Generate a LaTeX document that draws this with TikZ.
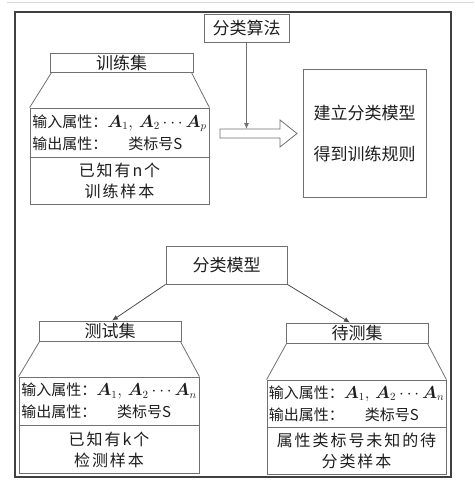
\documentclass[tikz,border=0pt]{standalone}
\usepackage{fontspec}
\usepackage{bm}
\setmainfont{Noto Sans CJK SC}
\newfontfamily\widecjk{Noto Sans CJK SC}[LetterSpace=12]
\usetikzlibrary{arrows.meta,positioning}

\definecolor{linegray}{HTML}{707070}
\definecolor{textgray}{HTML}{1E1E1E}
\newcommand{\attrs}[1]{{\fontsize{16}{22}\selectfont$\bm{A}_1,\,\bm{A}_2\cdots\bm{A}_{#1}$}}

\begin{document}
\begin{tikzpicture}[x=1pt,y=-1pt,>={Latex[length=6pt,width=5pt]}]
	\tikzstyle{every node}=[text=textgray,inner sep=0pt]
	\tikzstyle{box}=[draw=linegray,thick,fill=white]
	\tikzstyle{title}=[box,font=\fontsize{17}{20}\selectfont]
	\tikzstyle{attr}=[box,align=left,font=\fontsize{15}{22}\selectfont]
	\tikzstyle{sample}=[box,align=center,font=\widecjk\fontsize{16}{21}\selectfont]
	\tikzstyle{edge}=[draw=linegray,thick]

	\useasboundingbox (0,0) rectangle (474,495);
	\draw[gray!30] (7,2.5) -- (474,2.5);
	\draw[black!75,line width=1.2pt] (15,12) rectangle (451,477);

	% training part
	\node[title,minimum width=85,minimum height=28] (algo) at (246.5,28) {分类算法};
	\node[title,minimum width=123,minimum height=128,align=center] (rule) at (364.5,133) {建立分类模型\\[21pt]得到训练规则};
	\node[title,minimum width=143,minimum height=19] (trainLbl) at (121.5,62.5) {训练集};
	\node[attr,minimum width=179,minimum height=49] (trainAttr) at (119.5,132.5) {输入属性：\attrs{p}\\输出属性：\hspace{1.4em}类标号S};
	\node[sample,minimum width=179,minimum height=47] (trainSamp) [below=0pt of trainAttr] {已知有n个\\训练样本};
	\draw[edge] ([xshift=2pt]trainLbl.south west) -- (trainAttr.north west);
	\draw[edge] ([xshift=-2pt]trainLbl.south east) -- (trainAttr.north east);

	\coordinate (shaft) at (220,129);
	\draw[edge,fill=white] (shaft) -- (280,129) -- (280,120) -- (297,133.5) -- (280,147) -- (280,138) -- (220,138) -- cycle;
	\draw[edge,->] (algo) -- (algo |- shaft);

	% testing part
	\node[title,minimum width=121,minimum height=38] (model) at (226.5,265) {分类模型};
	\node[title,minimum width=142,minimum height=20] (testLbl) at (110,331) {测试集};
	\node[attr,minimum width=180,minimum height=48] (testAttr) at (109,401) {输入属性：\attrs{n}\\输出属性：\hspace{1.4em}类标号S};
	\node[sample,minimum width=180,minimum height=48] (testSamp) [below=0pt of testAttr] {已知有k个\\检测样本};
	\draw[edge] ([xshift=1pt]testLbl.south west) -- (testAttr.north west);
	\draw[edge] ([xshift=-1pt]testLbl.south east) -- (testAttr.north east);

	\node[title,minimum width=142,minimum height=20] (waitLbl) at (357,333) {待测集};
	\node[attr,minimum width=179,minimum height=47] (waitAttr) at (356.5,403.5) {输入属性：\attrs{n}\\输出属性：\hspace{1.4em}类标号S};
	\node[sample,minimum width=179,minimum height=47] (waitSamp) [below=0pt of waitAttr] {属性类标号未知的待\\分类样本};
	\draw[edge] ([xshift=1pt]waitLbl.south west) -- (waitAttr.north west);
	\draw[edge] ([xshift=-1pt]waitLbl.south east) -- (waitAttr.north east);

	\draw[edge,->,draw=black!70] (model.south west) -- ([xshift=2pt]testLbl.north);
	\draw[edge,->,draw=black!70] (model.south east) -- ([xshift=-7pt]waitLbl.north);
\end{tikzpicture}
\end{document}
